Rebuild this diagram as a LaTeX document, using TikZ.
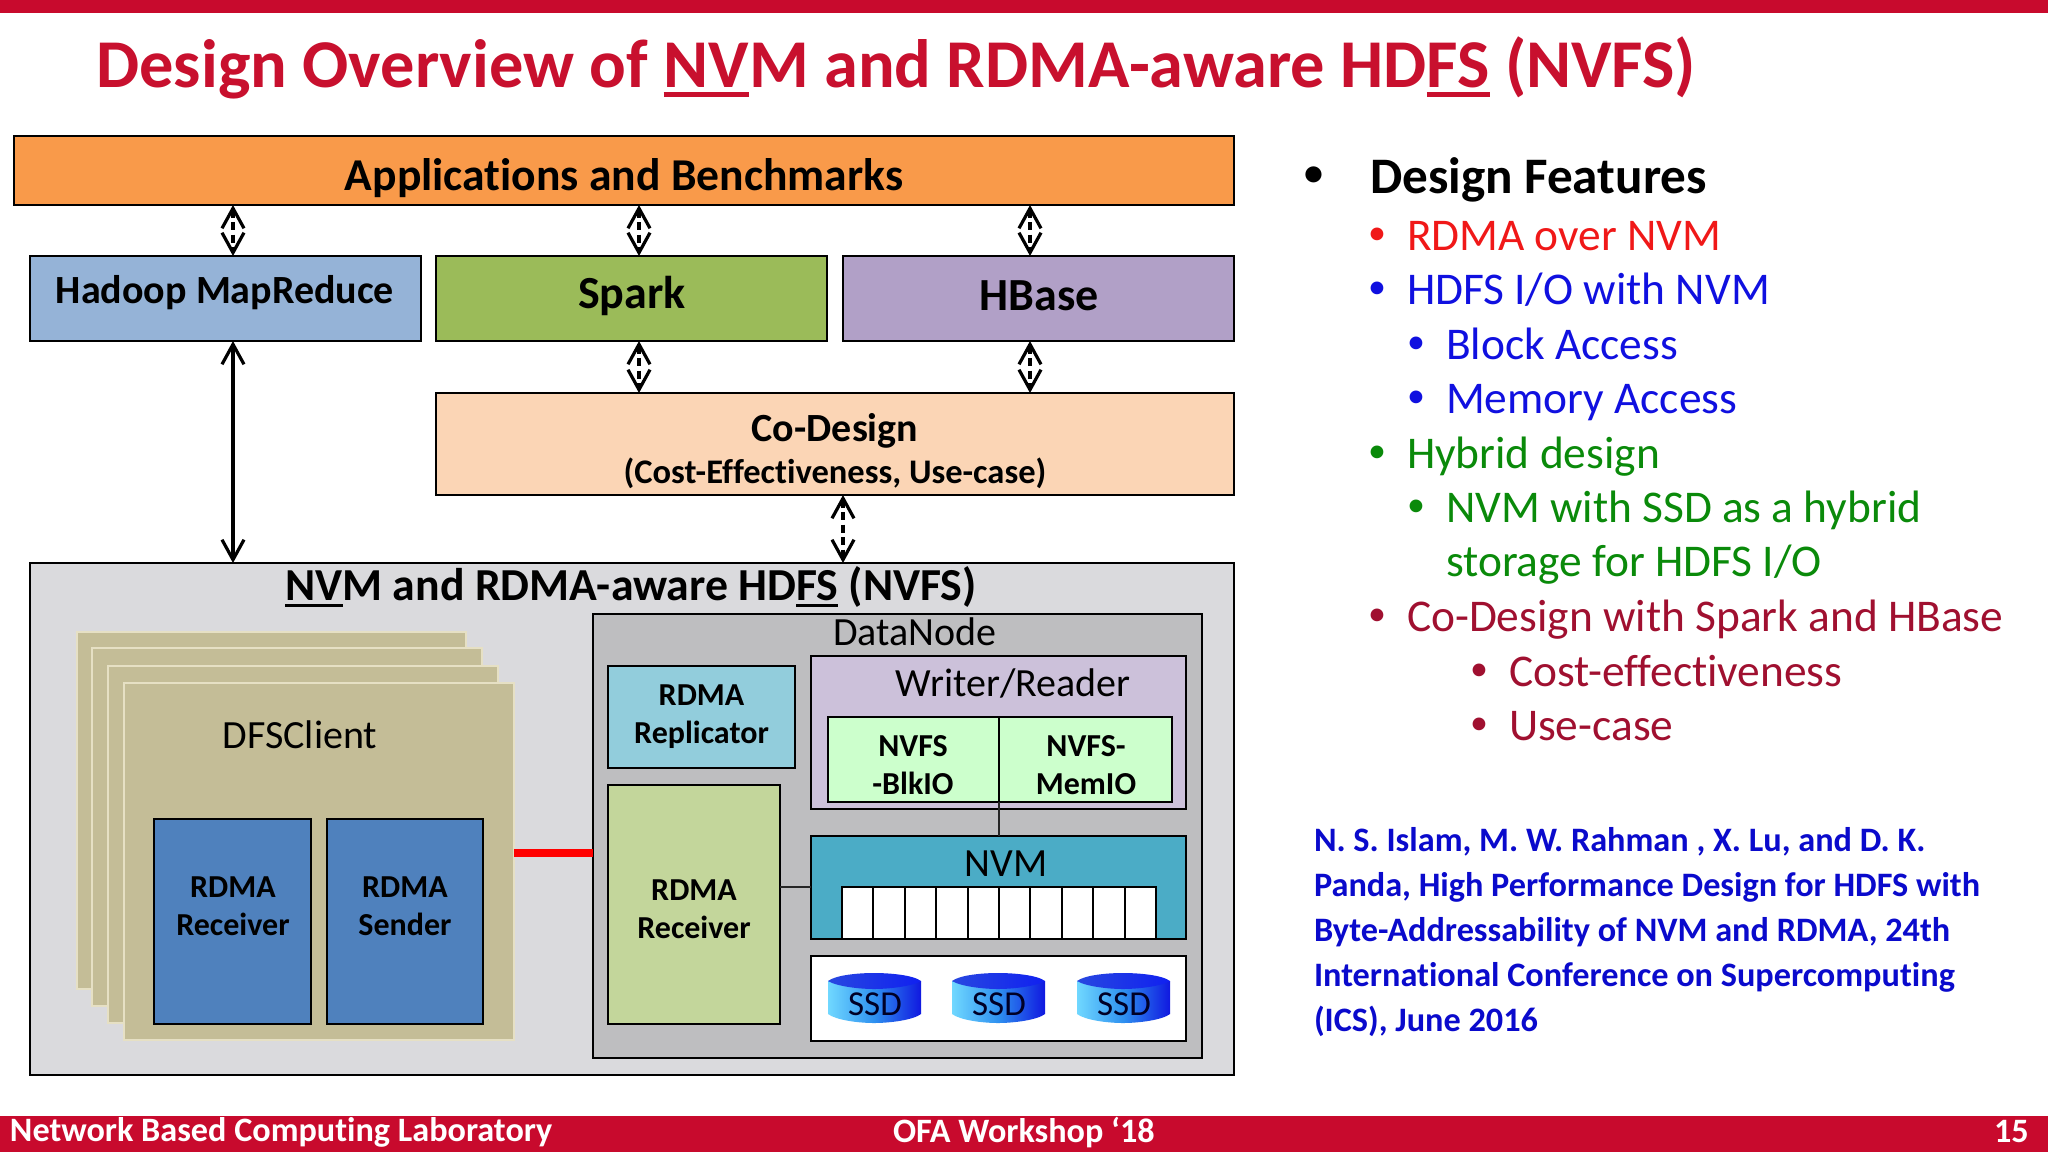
\documentclass[tikz,border=0pt]{standalone}
\usepackage{fontspec}
\setmainfont{Carlito}[Ligatures=NoCommon]
\usetikzlibrary{arrows.meta}
\definecolor{barred}{HTML}{C80A2D}
\definecolor{titlered}{HTML}{C8102E}
\definecolor{cApp}{HTML}{F99A4A}
\definecolor{cHad}{HTML}{95B3D7}
\definecolor{cSpark}{HTML}{9BBB59}
\definecolor{cHB}{HTML}{B1A0C7}
\definecolor{cCo}{HTML}{FBD5B5}
\definecolor{cNv}{HTML}{DADADD}
\definecolor{cDn}{HTML}{BEBEC0}
\definecolor{cRep}{HTML}{92CDDC}
\definecolor{cRec}{HTML}{C3D69B}
\definecolor{cWr}{HTML}{CCC1DA}
\definecolor{cIn}{HTML}{CCFFCC}
\definecolor{cNvm}{HTML}{4BACC6}
\definecolor{cDfs}{HTML}{C4BD97}
\definecolor{cDfsE}{HTML}{E6E0C4}
\definecolor{cBlue}{HTML}{4F81BD}
\definecolor{tRed}{HTML}{F01818}
\definecolor{tBlue}{HTML}{1010E0}
\definecolor{tGreen}{HTML}{0A8A0A}
\definecolor{tDark}{HTML}{A01030}
\definecolor{tCite}{HTML}{0A0ACC}
\definecolor{sL}{HTML}{70D8FF}
\definecolor{sM}{HTML}{2E90F0}
\definecolor{sR}{HTML}{1018E0}
\definecolor{sTL}{HTML}{2848E0}
\definecolor{sTR}{HTML}{1020F0}
\newcommand{\fs}[1]{\fontsize{#1}{#1}\selectfont}
\newcommand{\ulx}[1]{\setbox0=\hbox{#1}\rlap{\rule[-0.14em]{\wd0}{0.07em}}\box0\relax}
% \bx[style]{name}{x1}{y1}{x2}{y2}{text}
\newcommand{\bx}[7][]{%
  \pgfmathsetmacro\bxw{(#5-#3)*0.5}%
  \pgfmathsetmacro\bxh{(#6-#4)*0.5}%
  \node[boxn,#1,minimum width=\bxw pt,minimum height=\bxh pt] (#2) at ({(#3+#5)/2},{(#4+#6)/2}) {#7};}
\newcommand{\ssd}[2]{%
  \path[left color=sL,right color=sR,middle color=sM]
    (#2,981) -- (#2,1014) .. controls (#2+8,1020) and (#2+30,1023) .. (#2+46,1023)
    .. controls (#2+62,1023) and (#2+85,1020) .. (#2+93,1014) -- (#2+93,981) -- cycle;
  \path[left color=sTL,right color=sTR]
    (#2,981) .. controls (#2+8,975) and (#2+30,973) .. (#2+46,973)
    .. controls (#2+62,973) and (#2+85,975) .. (#2+93,981)
    .. controls (#2+85,986) and (#2+62,989) .. (#2+46,989)
    .. controls (#2+30,989) and (#2+8,986) .. (#2,981) -- cycle;
  \node[ssdt] (#1) at (#2+47,1004) {SSD};}
\tikzset{
  boxn/.style={draw=black,line width=1.2pt,inner sep=0pt,outer sep=0pt,align=center,text=black},
  stack/.style={boxn,draw=cDfsE,line width=0.7pt,fill=cDfs},
  lab/.style={inner sep=0pt,outer sep=0pt,align=center,text=black},
  bold/.style={font=\fs{20}\bfseries},
  boldm/.style={font=\fs{16}\bfseries,execute at begin node=\setlength{\baselineskip}{19pt}},
  plain/.style={font=\fs{20}},
  ssdt/.style={lab,font=\fs{17.5},text=black!85!blue},
  dbl/.style={line width=1.6pt,{Straight Barb[length=10pt,width=11pt,line width=1.6pt]}-{Straight Barb[length=10pt,width=11pt,line width=1.6pt]}},
  dbld/.style={dbl,dash pattern=on 4pt off 2.2pt},
  thinl/.style={line width=1pt,draw=black!85},
  item/.style={inner sep=0pt,outer sep=0pt,anchor=base west,font=\fs{22.7}},
  bull/.style={inner sep=0pt,outer sep=0pt,anchor=base,font=\fs{18}},
  cite/.style={inner sep=0pt,outer sep=0pt,anchor=base west,text=tCite,font=\fs{17.13}\bfseries},
  foot/.style={inner sep=0pt,outer sep=0pt,anchor=base west,text=white,font=\fs{17.1}\bfseries},
}
\begin{document}
\begin{tikzpicture}[x=0.5pt,y=-0.5pt]
\useasboundingbox (0,0) rectangle (2048,1152);
\fill[white] (0,0) rectangle (2048,1152);
% bars
\fill[barred] (0,0) rectangle (2048,13);
\fill[barred] (0,1116) rectangle (2048,1152);
% title
\node[inner sep=0pt,anchor=base west,text=titlered,font=\fs{34.2}\bfseries] (title) at (96,87)
  {Design Overview of \ulx{NV}M and RDMA-aware HD\ulx{FS} (NVFS)};
% top layer
\bx[fill=cApp]{app}{14}{136}{1234}{205}{}
\node[lab,font=\fs{22.8}\bfseries] (appt) at (624,178) {Applications and Benchmarks};
\bx[fill=cHad]{hadoop}{30}{256}{421}{341}{}
\node[lab,bold] (hadoopt) at (225,293) {Hadoop MapReduce};
\bx[fill=cSpark]{spark}{436}{256}{827}{341}{}
\node[lab,font=\fs{23}\bfseries] (sparkt) at (632,296) {Spark};
\bx[fill=cHB]{hbase}{843}{256}{1234}{341}{}
\node[lab,font=\fs{23}\bfseries] (hbaset) at (1039,296) {HBase};
\bx[fill=cCo]{codesign}{436}{393}{1234}{495}{}
\node[lab,font=\fs{20}\bfseries] (cot1) at (835,431) {Co-Design};
\node[lab,font=\fs{17.25}\bfseries] (cot2) at (835,473) {(Cost-Effectiveness, Use-case)};
\bx[fill=cNv]{nvfs}{30}{563}{1234}{1075}{}
\node[lab,font=\fs{22.9}\bfseries] (nvfst) at (631,587) {\ulx{NV}M and RDMA-aware HD\ulx{FS} (NVFS)};
% DFS client stack
\bx[stack]{d1}{77}{632}{466}{989}{}
\bx[stack]{d2}{92}{648}{482}{1006}{}
\bx[stack]{d3}{108}{666}{498}{1023}{}
\bx[stack]{d4}{124}{683}{514}{1040}{}
\node[lab,plain] (dfst) at (300,735) {DFSClient};
\bx[fill=cBlue]{crec}{154}{819}{311}{1024}{}
\node[lab,boldm] (crect) at (233,906) {RDMA\\Receiver};
\bx[fill=cBlue]{csen}{327}{819}{483}{1024}{}
\node[lab,boldm] (csent) at (405,906) {RDMA\\Sender};
% DataNode
\bx[fill=cDn]{dn}{593}{614}{1202}{1058}{}
\node[lab,plain] (dnt) at (915,632) {DataNode};
\bx[fill=cRep,boldm]{rep}{608}{666}{795}{768}{RDMA\\Replicator}
\bx[fill=cRec]{rec}{608}{785}{780}{1024}{}
\node[lab,boldm] (rect) at (694,909) {RDMA\\Receiver};
\bx[fill=cWr]{wr}{811}{656}{1186}{809}{}
\node[lab,plain] (wrt) at (1013,683) {Writer/Reader};
\bx[fill=cIn]{blk}{828}{717}{999}{802}{}
\node[lab,boldm] (blkt) at (913,765) {NVFS\\-BlkIO};
\bx[fill=cIn]{mem}{999}{717}{1172}{802}{}
\node[lab,boldm] (memt) at (1086,765) {NVFS-\\MemIO};
\bx[fill=cNvm]{nvm}{811}{836}{1186}{939}{}
\node[lab,plain] (nvmt) at (1006,864) {NVM};
\foreach \i in {0,...,9}{
  \pgfmathsetmacro\cl{842+31.4*\i}
  \pgfmathsetmacro\cr{842+31.4*(\i+1)}
  \bx[fill=white,line width=1pt]{cell\i}{\cl}{887}{\cr}{939}{}
}
\bx[fill=white]{ssdbox}{811}{956}{1186}{1041}{}
\ssd{s1}{828}
\ssd{s2}{952}
\ssd{s3}{1077}
% connectors
\coordinate (a1) at (233,0);
\coordinate (a2) at (639,0);
\coordinate (a3) at (1030,0);
\coordinate (a4) at (843,0);
\coordinate (m1) at (0,853);
\coordinate (m2) at (0,887);
\draw[dbld] (app.south -| a1) -- (hadoop.north -| a1);
\draw[dbld] (app.south -| a2) -- (spark.north -| a2);
\draw[dbld] (app.south -| a3) -- (hbase.north -| a3);
\draw[dbl] (hadoop.south -| a1) -- (nvfs.north -| a1);
\draw[dbld] (spark.south -| a2) -- (codesign.north -| a2);
\draw[dbld] (hbase.south -| a3) -- (codesign.north -| a3);
\draw[dbld] (codesign.south -| a4) -- (nvfs.north -| a4);
\draw[line width=4pt,draw=red] (d4.east |- m1) -- (dn.west |- m1);
\draw[thinl] (rec.east |- m2) -- (nvm.west |- m2);
\draw[thinl] (blk.south east) -- (nvm.north -| blk.south east);
% right column
\node[bull,font=\fs{19}\bfseries] (b0) at (1314,185) {•};
\node[item,font=\fs{25.6}\bfseries] (t0) at (1370,193) {Design Features};
\node[bull,text=tRed] (b1) at (1377,244) {•};
\node[item,text=tRed] (t1) at (1407,250) {RDMA over NVM};
\node[bull,text=tBlue] (b2) at (1377,298) {•};
\node[item,text=tBlue] (t2) at (1407,304) {HDFS I/O with NVM};
\node[bull,text=tBlue] (b3) at (1416,353) {•};
\node[item,text=tBlue] (t3) at (1446,359) {Block Access};
\node[bull,text=tBlue] (b4) at (1416,407) {•};
\node[item,text=tBlue] (t4) at (1446,413) {Memory Access};
\node[bull,text=tGreen] (b5) at (1377,462) {•};
\node[item,text=tGreen] (t5) at (1407,468) {Hybrid design};
\node[bull,text=tGreen] (b6) at (1416,516) {•};
\node[item,text=tGreen] (t6) at (1446,522) {NVM with SSD as a hybrid};
\node[item,text=tGreen] (t6b) at (1446,576) {storage for HDFS I/O};
\node[bull,text=tDark] (b7) at (1377,625) {•};
\node[item,text=tDark] (t7) at (1407,631) {Co-Design with Spark and HBase};
\node[bull,text=tDark] (b8) at (1479,680) {•};
\node[item,text=tDark] (t8) at (1509,686) {Cost-effectiveness};
\node[bull,text=tDark] (b9) at (1479,734) {•};
\node[item,text=tDark] (t9) at (1509,740) {Use-case};
% citation
\node[cite] (c1) at (1314,851) {N. S. Islam, M. W. Rahman , X. Lu, and D. K.};
\node[cite] (c2) at (1314,896) {Panda, High Performance Design for HDFS with};
\node[cite] (c3) at (1314,941) {Byte-Addressability of NVM and RDMA, 24th};
\node[cite] (c4) at (1314,986) {International Conference on Supercomputing};
\node[cite] (c5) at (1314,1031) {(ICS), June 2016};
% footer
\node[foot] (f1) at (10,1141) {Network Based Computing Laboratory};
\node[foot] (f2) at (893,1142) {OFA Workshop ‘18};
\node[foot] (f3) at (1994,1142) {15};
\end{tikzpicture}
\end{document}
